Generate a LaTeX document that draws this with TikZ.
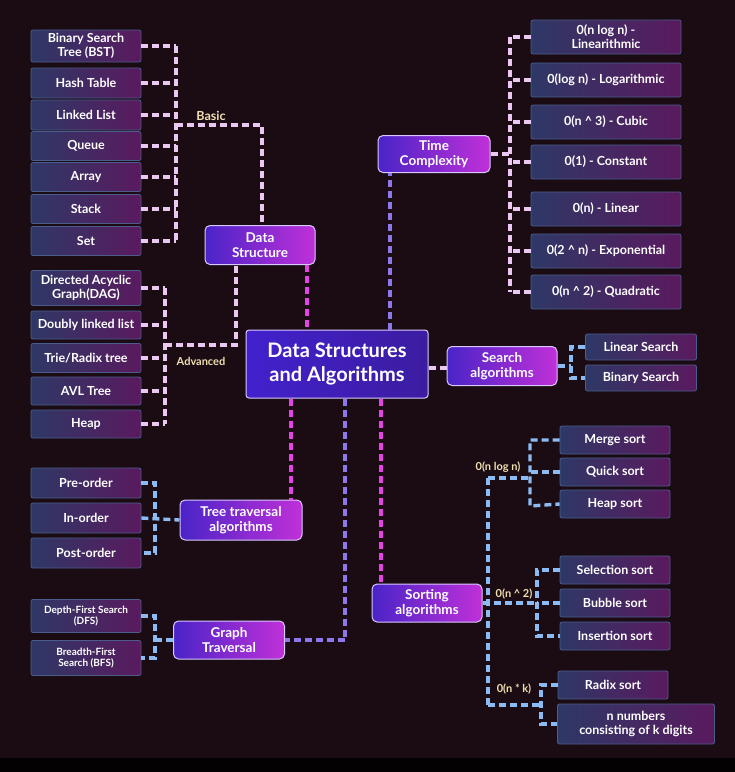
\documentclass[tikz,border=0pt]{standalone}
\usepackage{fontspec}
\setmainfont{Lato}
\begin{document}
\begin{tikzpicture}[x=1pt,y=-1pt,
  leaf/.style={draw=leafb,line width=0.8pt,rounded corners=2pt,left color=leafl,right color=leafr,text=white,font=\bfseries\fontsize{12.5}{14}\selectfont,align=center,inner sep=0pt},
  mid/.style={draw=midb,line width=1pt,rounded corners=5pt,left color=midl,right color=midr,text=white,font=\bfseries\fontsize{13.5}{15}\selectfont,align=center,inner sep=0pt},
  cn/.style={line width=3.4pt,dash pattern=on 7pt off 4pt},
  lav/.style={cn,draw=lavc},
  mag/.style={cn,draw=magc},
  blu/.style={cn,draw=bluc},
  sky/.style={cn,draw=skyc},
  lbl/.style={text=lblc,font=\bfseries\fontsize{11}{12}\selectfont,inner sep=1pt}]
\definecolor{bg}{HTML}{1B0C14}
\definecolor{leafb}{HTML}{4C5C8C}
\definecolor{leafl}{HTML}{2E3866}
\definecolor{leafr}{HTML}{5A1A5E}
\definecolor{midb}{HTML}{D8C8FF}
\definecolor{midl}{HTML}{4A24C8}
\definecolor{midr}{HTML}{C030D8}
\definecolor{lavc}{HTML}{EAC8F2}
\definecolor{magc}{HTML}{E444E4}
\definecolor{bluc}{HTML}{8C78EC}
\definecolor{skyc}{HTML}{8CBAF2}
\definecolor{lblc}{HTML}{F0E0B0}
\fill[bg] (0,0) rectangle (735,772);
\fill[black!90!bg] (0,758) rectangle (735,772);
\useasboundingbox (0,0) rectangle (735,772);
% main
\node[draw=midb,line width=1pt,rounded corners=3pt,left color=midl!90!blue,right color=midl!80!black,text=white,font=\bfseries\fontsize{20}{24}\selectfont,align=center,minimum width=182pt,minimum height=68pt,inner sep=0pt] (main) at (337,364) {Data Structures\\and Algorithms};
% mid nodes
\node[mid,minimum width=110pt,minimum height=39pt] (ds) at (260,245) {Data\\Structure};
\node[mid,minimum width=112pt,minimum height=37pt] (tc) at (434,154) {Time\\Complexity};
\node[mid,minimum width=110pt,minimum height=39pt] (sa) at (502,366) {Search\\algorithms};
\node[mid,minimum width=122pt,minimum height=40pt] (tt) at (241,520) {Tree traversal\\algorithms};
\node[mid,minimum width=111pt,minimum height=38pt] (gt) at (229,640) {Graph\\Traversal};
\node[mid,minimum width=110pt,minimum height=38pt] (so) at (427,603) {Sorting\\algorithms};
% basic
\foreach \n/\y/\h/\t in {b1/46/32/{Binary Search\\Tree (BST)},b2/83/30/Hash Table,b3/115/30/Linked List,b4/146/29/Queue,b5/177/29/Array,b6/209/29/Stack,b7/241/29/Set}
  \node[leaf,minimum width=110pt,minimum height=\h pt] (\n) at (86,\y) {\t};
\foreach \n in {b1,b2,b3,b4,b5,b6,b7} \draw[lav] (\n.east) -- (\n.east -| 176,0);
\draw[lav] (176,46) -- (176,241);
\coordinate (bj) at (176,125);
\draw[lav] (bj) -| (ds.north -| 262,0);
\node[lbl,font=\bfseries\fontsize{12.5}{13}\selectfont] (basic) at (211,116) {Basic};
% advanced
\foreach \n/\y/\h/\t in {a1/288/35/{Directed Acyclic\\Graph(DAG)},a2/325/28/{Doubly linked list},a3/358/29/{Trie/Radix tree},a4/391/28/{AVL Tree},a5/424/28/Heap}
  \node[leaf,minimum width=110pt,minimum height=\h pt] (\n) at (86,\y) {\t};
\foreach \n in {a1,a2,a3,a4,a5} \draw[lav] (\n.east) -- (\n.east -| 165,0);
\draw[lav] (165,288) -- (165,424);
\coordinate (aj) at (165,345);
\draw[lav] (aj) -| (ds.south -| 236,0);
\node[lbl] (adv) at (201,361) {Advanced};
% ds to main
\draw[mag] (ds.south -| 307,0) -- (main.north -| 307,0);
% time complexity
\draw[blu] (main.north -| 390,0) -- (tc.south -| 390,0);
\foreach \n/\y/\t in {t1/37/{0(n log n) -\\Linearithmic},t2/80/{0(log n) - Logarithmic},t3/122/{0(n \^{} 3) - Cubic},t4/162/{0(1) - Constant},t5/209/{0(n) - Linear},t6/251/{0(2 \^{} n) - Exponential},t7/292/{0(n \^{} 2) - Quadratic}}
  \node[leaf,minimum width=150pt,minimum height=34pt] (\n) at (606,\y) {\t};
\foreach \n in {t1,t2,t3,t4,t5,t6,t7} \draw[lav] (\n.west) -- (\n.west -| 510,0);
\draw[lav] (510,37) -- (510,292);
\draw[lav] (tc.east) -- (tc.east -| 510,0);
% search
\draw[lav] (main.east |- 0,368) -- (sa.west |- 0,368);
\node[leaf,minimum width=111pt,minimum height=26pt] (s1) at (641,347) {Linear Search};
\node[leaf,minimum width=111pt,minimum height=26pt] (s2) at (641,378) {Binary Search};
\draw[sky] (s1.west) -- (571,347) -- (571,378) -- (s2.west);
\draw[sky] (sa.east) -- (571,366);
% tree traversal
\draw[mag] (main.south -| 291,0) -- (tt.north -| 291,0);
\foreach \n/\y/\t in {p1/483/Pre-order,p2/518/In-order,p3/553/Post-order}
  \node[leaf,minimum width=110pt,minimum height=30pt] (\n) at (86,\y) {\t};
\draw[sky] (p1.east) -- (155,483) -- (155,553) -- (p3.east);
\draw[sky] (p2.east) -- (tt.west);
% graph
\draw[blu] (main.south -| 345,0) |- (gt.east);
\node[leaf,minimum width=110pt,minimum height=33pt,font=\bfseries\fontsize{10}{11}\selectfont] (g1) at (86,616) {Depth-First Search\\(DFS)};
\node[leaf,minimum width=110pt,minimum height=35pt,font=\bfseries\fontsize{10}{11}\selectfont] (g2) at (86,658) {Breadth-First\\Search (BFS)};
\draw[sky] (g1.east) -- (155,616) -- (155,658) -- (g2.east);
\draw[sky] (gt.west) -- (155,640);
% sorting
\draw[mag] (main.south -| 381,0) -- (so.north -| 381,0);
\foreach \n/\y/\t in {m1/440/Merge sort,m2/472/Quick sort,m3/504/Heap sort,q1/570/Selection sort,q2/603/Bubble sort,q3/636/Insertion sort}
  \node[leaf,minimum width=110pt,minimum height=28pt] (\n) at (615,\y) {\t};
\node[leaf,minimum width=110pt,minimum height=28pt] (r1) at (613,685) {Radix sort};
\node[leaf,minimum width=157pt,minimum height=40pt] (r2) at (636,724) {n numbers\\consisting of k digits};
\draw[sky] (488,478) -- (488,705);
\draw[sky] (488,478) -- (530,478);
\draw[sky] (m1.west) -- (530,440) -- (530,506) -- (m3.west);
\draw[sky] (m2.west) -- (530,472);
\draw[sky] (so.east) -- (537,603);
\draw[sky] (q1.west) -- (537,570) -- (537,636) -- (q3.west);
\draw[sky] (q2.west) -- (537,603);
\draw[sky] (488,705) -- (541,705);
\draw[sky] (r1.west) -- (541,685) -- (541,724) -- (r2.west);
\node[lbl] (l1) at (498,467) {0(n log n)};
\node[lbl] (l2) at (514,594) {0(n \^{} 2)};
\node[lbl] (l3) at (514,689) {0(n * k)};
\end{tikzpicture}
\end{document}
